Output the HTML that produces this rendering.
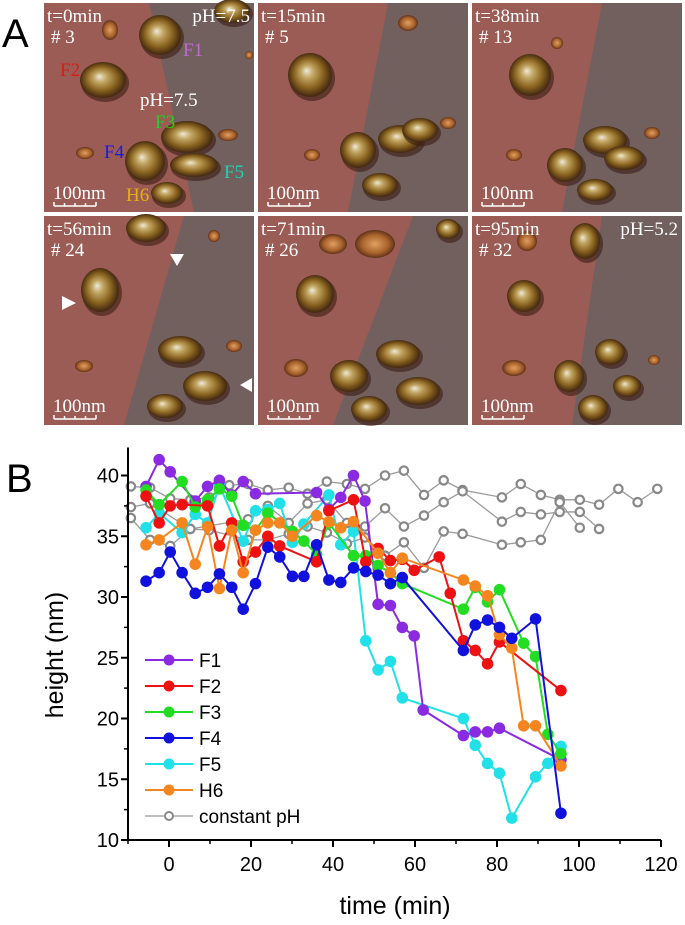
<!DOCTYPE html>
<html><head><meta charset="utf-8"><style>
html,body{margin:0;padding:0;background:#fff;}
svg{display:block;}
</style></head><body>
<svg id="fig" width="685" height="925" viewBox="0 0 685 925" xmlns="http://www.w3.org/2000/svg">
<defs>
<radialGradient id="blob" cx="50%" cy="50%" r="55%" fx="42%" fy="40%">
<stop offset="0" stop-color="#eeeadc"/>
<stop offset="0.25" stop-color="#c4a866"/>
<stop offset="0.6" stop-color="#8a6420"/>
<stop offset="0.88" stop-color="#4a2e12"/>
<stop offset="1" stop-color="#3a2210" stop-opacity="0.8"/>
</radialGradient>
<radialGradient id="small" cx="50%" cy="50%" r="55%">
<stop offset="0" stop-color="#e0a060"/>
<stop offset="0.6" stop-color="#a8622c"/>
<stop offset="1" stop-color="#4a2414"/>
</radialGradient>
</defs>
<text x="2" y="47" font-family="Liberation Sans, sans-serif" font-size="40">A</text>
<g id="tiles"></g>
<text x="6" y="492" font-family="Liberation Sans, sans-serif" font-size="40">B</text>
<g id="chart"></g>
</svg>
<script>
// ---------------- chart data ----------------
const xTicks = [0, 20, 40, 60, 80, 100, 120];
const yTicks = [10, 15, 20, 25, 30, 35, 40];
const seriesNames = ["F1", "F2", "F3", "F4", "F5", "H6"];
const seriesColors = ["#8a2be2", "#ee1111", "#22dd22", "#1111dd", "#22e0e8", "#f5861f"];
const f1T = [-5.6,-2.4,0.3,6.4,9.4,12.3,15.3,18.1,21.1,36,39,41.9,45,47.8,51,54,56.9,59.8,62,71.8,74.7,77.7,80.6,95.6];
const f1V = [39.1,41.3,40.3,37.9,39.1,39.6,38.4,39.5,38.5,38.6,37.2,38.2,40.0,37.9,29.4,29.3,27.5,26.8,20.7,18.6,18.9,18.9,19.2,16.6];
const f2T = [-5.6,-2.4,0.3,3.2,9.4,12.3,15.3,18.1,21.1,24.1,27,36,39,45,48,51,54,56.9,59.8,65.9,68.6,71.8,74.7,77.7,80.6,95.6];
const f2V = [38.3,36.1,37.5,37.6,37.5,34.2,36.1,32.9,33.7,35.0,34.2,32.9,37.1,38.0,32.9,34.0,33.0,33.1,32.2,33.3,30.3,26.4,25.6,24.5,26.3,22.3];
const f3T = [-5.6,-2.4,3.2,6.4,9.4,12.3,15.3,18.1,21.1,24.1,30.1,32.9,36,39,45,48,51,54,56.9,71.8,74.7,77.7,80.6,86.5,89.4,92.4,95.6];
const f3V = [38.8,37.6,39.5,37.4,38.0,38.9,38.3,35.9,35.5,36.9,35.4,34.6,33.5,36.1,33.4,33.4,32.6,32.0,31.1,29.0,30.8,29.6,30.6,26.2,25.1,18.7,17.1];
const f4T = [-5.6,-2.4,0.3,3.2,6.4,9.4,12.3,15.3,18.1,21.1,24.1,27,30.1,32.9,36,39,41.9,45,48,51,54,56.9,71.8,74.7,77.7,80.6,83.6,89.4,95.6];
const f4V = [31.3,32.0,33.7,32.0,30.3,30.8,31.9,30.8,29.0,31.1,34.1,33.3,31.7,31.7,34.3,31.4,31.2,32.4,32.1,31.8,31.1,31.6,25.6,27.7,28.1,27.5,26.6,28.2,12.2];
const f5T = [-5.6,-2.4,3.2,6.4,9.4,12.3,18.1,21.1,24.1,27,30.1,32.9,39,41.9,45,48,51,54,56.9,71.8,74.7,77.7,80.6,83.6,89.4,92.4,95.6];
const f5V = [35.7,36.9,35.3,36.8,36.1,39.2,34.6,37.1,37.2,37.7,34.5,36.0,38.4,34.3,35.4,26.4,24.0,24.7,21.7,20.0,17.8,16.3,15.5,11.8,15.2,16.3,17.7];
const h6T = [-5.6,-2.4,3.2,6.4,9.4,12.3,15.3,18.1,21.1,24.1,27,30.1,36,39,41.9,45,51,54,56.9,71.8,74.7,77.7,80.6,83.6,86.5,89.4,95.6];
const h6V = [34.3,34.7,36.1,32.7,35.8,30.7,35.5,32.0,35.5,36.1,36.1,35.0,36.7,36.2,35.7,36.2,33.6,32.0,33.2,31.4,30.9,30.1,26.9,25.8,19.4,19.4,16.1];
const gAT = [-9.3,-4.6,0.3,5.2,9.8,14.7,19.3,24.1,29.2,33.8,38.5,43.4,47.8,52.7,57.3,62.2,67,71.6,81.2,85.8,90.7,95.3,100.2,104.9,109.6,114.3,119.1];
const gAV = [39.1,39.0,38.1,38.0,38.2,39.2,39.3,38.8,39.0,38.5,39.5,39.3,38.9,40.0,40.4,38.4,39.6,38.8,38.2,39.3,38.4,38.0,38.0,37.6,38.9,37.8,38.9];
const gBT = [-9.3,-4.6,5.2,19.3,24.1,29.2,33.8,38.5,43.4,47.8,52.7,57.3,62.2,67,71.6,81.2,85.8,90.7,95.3,100.2,104.9];
const gBV = [37.4,37.7,35.6,36.4,37.5,36.1,37.7,38.0,36.1,35.8,37.3,35.8,36.7,37.8,38.7,36.2,37.0,36.8,37.0,37.0,35.6];
const gCT = [-9.3,-4.6,0.3,5.2,9.8,19.3,24.1,29.2,33.8,38.5,43.4,47.8,52.7,57.3,62.2,67,71.6,81.2,85.8,90.7,95.3,100.2];
const gCV = [36.5,34.7,34.2,35.6,35.5,34.7,34.7,35.2,35.8,35.3,34.4,34.9,33.4,34.5,32.4,35.4,35.2,34.3,34.5,34.7,37.8,35.7];

const NS = "http://www.w3.org/2000/svg";
function mk(tag, attrs, parent){const e=document.createElementNS(NS,tag);for(const k in attrs)e.setAttribute(k,attrs[k]);parent.appendChild(e);return e;}

// ---------------- AFM tiles ----------------
const tilesG = document.getElementById('tiles');
const cols=[44,258,472], rows=[3,216], TW=210, TH=209;
const tileInfo=[
 {t:"t=0min",n:"# 3",ph:"pH=7.5",gray:[[105,0],[210,0],[210,209],[150,209]],
  blobs:[[116,32,21,20],[188,8,18,12],[59,77,23,18],[143,134,26,16],[150,162,24,12],[101,158,20,20],[123,190,16,11]],
  smalls:[[41,150,9,6],[66,27,8,10],[184,132,10,6],[205,52,4,4]]},
 {t:"t=15min",n:"# 5",ph:"",gray:[[130,0],[210,0],[210,209],[90,209]],
  blobs:[[52,72,22,22],[100,147,18,18],[142,136,22,14],[162,127,18,12],[122,182,18,12]],
  smalls:[[54,152,8,6],[150,20,10,8],[190,120,8,6]]},
 {t:"t=38min",n:"# 13",ph:"",gray:[[130,0],[210,0],[210,209],[90,209]],
  blobs:[[58,72,21,21],[93,162,18,17],[133,137,22,14],[152,155,20,12],[123,187,18,11]],
  smalls:[[42,152,8,6],[85,40,6,6],[180,130,8,6]]},
 {t:"t=56min",n:"# 24",ph:"",gray:[[140,0],[210,0],[210,209],[80,209]],
  blobs:[[102,12,20,14],[56,74,19,22],[136,134,22,14],[161,170,22,15],[121,190,18,12]],
  smalls:[[40,150,9,6],[190,130,8,6],[170,20,6,6]]},
 {t:"t=71min",n:"# 26",ph:"",gray:[[155,0],[210,0],[210,209],[75,209]],
  blobs:[[57,78,19,19],[140,138,22,14],[91,160,19,16],[160,175,22,14],[111,193,18,13],[190,13,12,10]],
  smalls:[[38,152,12,9],[117,28,20,14],[75,28,14,10]]},
 {t:"t=95min",n:"# 32",ph:"pH=5.2",gray:[[130,0],[210,0],[210,209],[100,209]],
  blobs:[[52,80,17,16],[97,160,15,16],[138,136,15,13],[155,170,14,11],[121,192,15,13],[113,25,15,18]],
  smalls:[[42,152,12,8],[55,25,10,10],[182,144,6,5]]}
];
tileInfo.forEach((ti,i)=>{
  const x0=cols[i%3], y0=rows[Math.floor(i/3)];
  const g=mk('g',{transform:`translate(${x0},${y0})`},tilesG);
  
  
  mk('rect',{x:0,y:0,width:TW,height:TH,fill:'#9a5c55'},g);
  mk('polygon',{points:ti.gray.map(p=>p.join(',')).join(' '),fill:'#6e6161',opacity:0.9},g);
  ti.smalls.forEach(s=>{mk('ellipse',{cx:s[0],cy:s[1],rx:s[2],ry:s[3],fill:'url(#small)'},g);});
  ti.blobs.forEach(b=>{
    mk('ellipse',{cx:b[0]+2,cy:b[1]+3,rx:b[2]+1,ry:b[3]+1,fill:'#3a1c12',opacity:0.6},g);
    mk('ellipse',{cx:b[0],cy:b[1],rx:b[2],ry:b[3],fill:'url(#blob)'},g);
  });
  const t1=mk('text',{x:3,y:19,fill:'#fff','font-size':19,'font-family':'Liberation Serif, serif'},g);t1.textContent=ti.t;
  
  
  const t2=mk('text',{x:7,y:40,fill:'#fff','font-size':19,'font-family':'Liberation Serif, serif'},g);t2.textContent=ti.n;
  
  
  if(ti.ph){const t3=mk('text',{x:206,y:19,fill:'#fff','font-size':19,'text-anchor':'end','font-family':'Liberation Serif, serif'},g);t3.textContent=ti.ph;
    
    }
  const sb=mk('text',{x:9,y:196,fill:'#fff','font-size':19,'font-family':'Liberation Serif, serif'},g);sb.textContent='100nm';
  
  
  const bar=mk('path',{d:'M10 203 H52 M10 203 V199 M20.5 203 V200 M31 203 V200 M41.5 203 V200 M52 203 V199',stroke:'#fff','stroke-width':1.5,fill:'none'},g);
  
  
  if(i===0){
    [["F1",139,53,"#c06ad8"],["F2",16,73,"#e01818"],["pH=7.5",96,103,"#fff"],["F3",111,125,"#22d022"],["F4",60,155,"#1a1ae0"],["F5",180,175,"#20d0b0"],["H6",82,198,"#e8b010"]].forEach(l=>{
      const e=mk('text',{x:l[1],y:l[2],fill:l[3],'font-size':19,'font-family':'Liberation Serif, serif'},g);e.textContent=l[0];
      
      
    });
  }
});
// arrows in tile 4
[[[126,38],[140,38],[133,50]],[[18,80],[18,94],[32,87]],[[208,162],[196,169],[208,176]]].forEach(p=>{
  const e=mk('polygon',{points:p.map(q=>(q[0]+44)+','+(q[1]+216)).join(' '),fill:'#fff'},tilesG);
  
  
});

// ---------------- chart ----------------
const chart=document.getElementById('chart');
const X0=169, XS=4.1, Y0=840, YS=12.15;
function xs(t){return X0+XS*t;}
function ys(v){return Y0-YS*(v-10);}
const font='Liberation Sans, Arial, sans-serif';
[[gAT,gAV],[gBT,gBV],[gCT,gCV]].forEach((s,k)=>{
  const g=mk('g',{},chart);
  
  
  mk('polyline',{points:s[0].map((t,i)=>xs(t)+','+ys(s[1][i])).join(' '),fill:'none',stroke:'#9a9a9a','stroke-width':1.3},g);
  s[0].forEach((t,i)=>{const c=mk('circle',{cx:xs(t),cy:ys(s[1][i]),r:4.2,fill:'#fff',stroke:'#888','stroke-width':2.2},g);
    
    });
});
const allT=[f1T,f2T,f3T,f4T,f5T,h6T], allV=[f1V,f2V,f3V,f4V,f5V,h6V];
const order=[4,0,2,1,5,3];
order.forEach(k=>{
  const g=mk('g',{},chart);
  
  
  mk('polyline',{points:allT[k].map((t,i)=>xs(t)+','+ys(allV[k][i])).join(' '),fill:'none',stroke:seriesColors[k],'stroke-width':2},g);
  allT[k].forEach((t,i)=>{const c=mk('circle',{cx:xs(t),cy:ys(allV[k][i]),r:5.8,fill:seriesColors[k]},g);
    
    });
});
const ax=mk('g',{},chart);


mk('path',{d:`M${xs(-10)} ${ys(42.3)} V${Y0} H${xs(120)}`,stroke:'#000','stroke-width':2,fill:'none'},ax);
yTicks.forEach(v=>{
  mk('line',{x1:xs(-10)-7,x2:xs(-10),y1:ys(v),y2:ys(v),stroke:'#000','stroke-width':2},ax);
  if(v<40) mk('line',{x1:xs(-10)-4,x2:xs(-10),y1:ys(v+2.5),y2:ys(v+2.5),stroke:'#000','stroke-width':1.5},ax);
  const t=mk('text',{x:xs(-10)-9,y:ys(v)+7,'font-size':20,'text-anchor':'end','font-family':font},ax);t.textContent=v;
  
  
});
xTicks.forEach(v=>{
  mk('line',{x1:xs(v),x2:xs(v),y1:Y0,y2:Y0+7,stroke:'#000','stroke-width':2},ax);
  mk('line',{x1:xs(v-10),x2:xs(v-10),y1:Y0,y2:Y0+4,stroke:'#000','stroke-width':1.5},ax);
  const t=mk('text',{x:xs(v),y:Y0+31,'font-size':20,'text-anchor':'middle','font-family':font},ax);t.textContent=v;
  
  
});
const xl=mk('text',{x:395,y:914,'font-size':25,'text-anchor':'middle','font-family':font},chart);xl.textContent='time (min)';


const yl=mk('text',{x:0,y:0,'font-size':25,'text-anchor':'middle','font-family':font,transform:'translate(63,655) rotate(-90)'},chart);yl.textContent='height (nm)';


const leg=mk('g',{},chart);


seriesNames.concat(['constant pH']).forEach((n,i)=>{
  const y=660+i*26;
  const e=mk('g',{},leg);
  
  
  const col=i<6?seriesColors[i]:'#999';
  mk('line',{x1:145,x2:193,y1:y,y2:y,stroke:col,'stroke-width':i<6?2:1.3},e);
  if(i<6) mk('circle',{cx:169,cy:y,r:5.5,fill:col},e);
  else mk('circle',{cx:169,cy:y,r:4,fill:'#fff',stroke:'#888','stroke-width':2},e);
  const t=mk('text',{x:199,y:y+7,'font-size':19,'font-family':font},e);t.textContent=n;
});
</script>
</body></html>
